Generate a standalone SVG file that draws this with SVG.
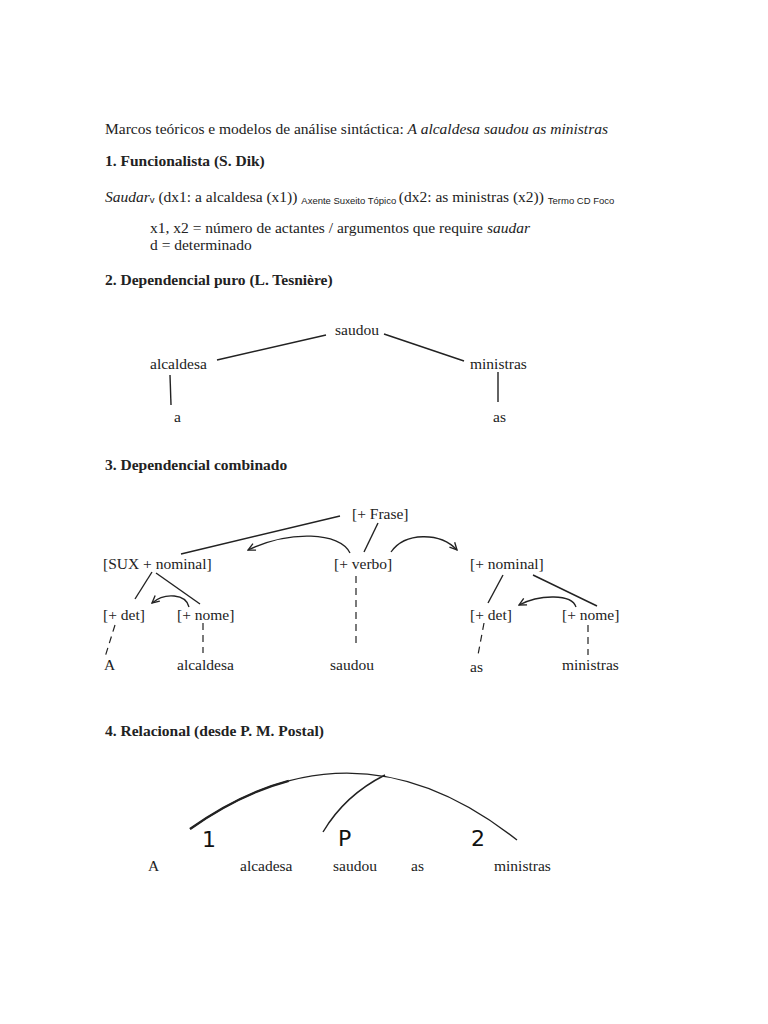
<svg xmlns="http://www.w3.org/2000/svg" width="768" height="1024" viewBox="0 0 768 1024">
<defs>
<style>
text{font-family:"Liberation Serif","Times New Roman",serif;font-size:15.5px;fill:#222}
.b{font-weight:bold}
.i{font-style:italic}
.s{font-family:"Liberation Sans",Arial,sans-serif;font-size:9.5px}
.hw{font-family:"DejaVu Sans",sans-serif;font-size:22px;fill:#111}
.ln{stroke:#222;stroke-width:1.4;fill:none}
.ds{stroke:#222;stroke-width:1.2;fill:none;stroke-dasharray:7,5}
.ar{stroke:#222;stroke-width:1.3;fill:none;marker-end:url(#ah)}
</style>
<marker id="ah" viewBox="0 0 10 10" refX="9" refY="5" markerWidth="9" markerHeight="9" orient="auto" markerUnits="userSpaceOnUse">
<path d="M1,1 L9,5 L1,9" fill="none" stroke="#222" stroke-width="1.5"/>
</marker>
</defs>
<rect width="768" height="1024" fill="#fff"/>

<text x="105" y="134">Marcos teóricos e modelos de análise sintáctica: <tspan class="i">A alcaldesa saudou as ministras</tspan></text>
<text x="105" y="166" class="b">1. Funcionalista (S. Dik)</text>
<text x="105" y="202"><tspan class="i">Saudar</tspan><tspan class="s" dy="1">v</tspan><tspan dy="-1"> (dx1: a alcaldesa (x1)) </tspan><tspan class="s" dy="2">Axente Suxeito Tópico </tspan><tspan dy="-2">(dx2: as ministras (x2)) </tspan><tspan class="s" dy="2">Termo CD Foco</tspan></text>
<text x="150" y="233">x1, x2 = número de actantes / argumentos que require <tspan class="i">saudar</tspan></text>
<text x="150" y="250">d = determinado</text>
<text x="105" y="285" class="b">2. Dependencial puro (L. Tesnière)</text>

<g id="sec2">
<g id="n2-saudou"><text x="335" y="335">saudou</text></g>
<g id="n2-alcaldesa"><text x="150" y="369">alcaldesa</text></g>
<g id="n2-ministras"><text x="470" y="369">ministras</text></g>
<g id="n2-a"><text x="174" y="422">a</text></g>
<g id="n2-as"><text x="493" y="422">as</text></g>
</g>
<g id="conn2">
<line class="ln" x1="217" y1="360" x2="326" y2="335"/>
<line class="ln" x1="384" y1="334" x2="464" y2="361"/>
<line class="ln" x1="170" y1="375" x2="171" y2="405"/>
<line class="ln" x1="498" y1="372" x2="498" y2="402"/>
</g>

<text x="105" y="470" class="b">3. Dependencial combinado</text>

<g id="sec3">
<g id="n3-frase"><text x="352" y="519">[+ Frase]</text></g>
<g id="n3-sux"><text x="103" y="569">[SUX + nominal]</text></g>
<g id="n3-verbo"><text x="334" y="569">[+ verbo]</text></g>
<g id="n3-nominal"><text x="470" y="569">[+ nominal]</text></g>
<g id="n3-det1"><text x="103" y="620">[+ det]</text></g>
<g id="n3-nome1"><text x="177" y="620">[+ nome]</text></g>
<g id="n3-det2"><text x="470" y="620">[+ det]</text></g>
<g id="n3-nome2"><text x="562" y="620">[+ nome]</text></g>
<g id="n3-A"><text x="104" y="670">A</text></g>
<g id="n3-alcaldesa"><text x="177" y="670">alcaldesa</text></g>
<g id="n3-saudou"><text x="330" y="670">saudou</text></g>
<g id="n3-as"><text x="470" y="672">as</text></g>
<g id="n3-ministras"><text x="562" y="670">ministras</text></g>
</g>
<g id="conn3">
<line class="ln" x1="340" y1="516" x2="181" y2="554"/>
<line class="ln" x1="378" y1="523" x2="364" y2="552"/>
<path class="ar" d="M350,553 C340,532 290,530 248,550"/>
<path class="ar" d="M391,552 C405,532 440,532 457,550"/>
<line class="ln" x1="152" y1="572" x2="135" y2="599"/>
<line class="ln" x1="156" y1="573" x2="200" y2="604"/>
<path class="ar" d="M189,607 C186,594 165,592 152,603"/>
<line class="ln" x1="503" y1="575" x2="488" y2="603"/>
<line class="ln" x1="533" y1="575" x2="597" y2="606"/>
<path class="ar" d="M576,607 C572,594 540,594 519,605"/>
<line class="ds" x1="115" y1="625" x2="105" y2="657"/>
<line class="ds" x1="203" y1="623" x2="203" y2="653"/>
<line class="ds" x1="356" y1="576" x2="356" y2="648"/>
<line class="ds" x1="484" y1="623" x2="478" y2="655"/>
<line class="ds" x1="588" y1="625" x2="588" y2="655"/>
</g>

<text x="105" y="736" class="b">4. Relacional (desde P. M. Postal)</text>

<g id="sec4">
<g id="n4-1"><text class="hw" x="202" y="847">1</text></g>
<g id="n4-P"><text class="hw" x="338" y="846">P</text></g>
<g id="n4-2"><text class="hw" x="471" y="846">2</text></g>
<g id="w-A"><text x="148" y="871">A</text></g>
<g id="w-alcadesa"><text x="240" y="871">alcadesa</text></g>
<g id="w-saudou"><text x="333" y="871">saudou</text></g>
<g id="w-as"><text x="411" y="871">as</text></g>
<g id="w-ministras"><text x="494" y="871">ministras</text></g>
</g>
<g id="conn4">
<path class="ln" d="M190,829 Q355,712 517,840"/>
<path d="M190,829 Q239.5,793.9 288.7,780.9" stroke="#222" stroke-width="2.4" fill="none"/>
<path class="ln" d="M385,775 Q345,795 323,832"/>
</g>
</svg>
